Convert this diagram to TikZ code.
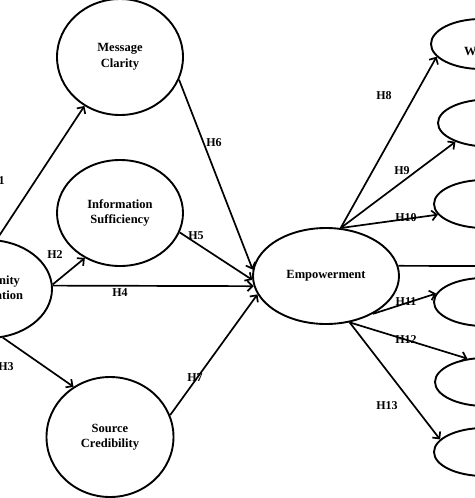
\documentclass[tikz,border=0pt]{standalone}
\usepackage{fontspec}
\setmainfont{Liberation Serif}
\usetikzlibrary{shapes.geometric,arrows.meta}
\begin{document}
\begin{tikzpicture}[x=1pt,y=-1pt,
  ell/.style={draw,ellipse,line width=1.9pt,inner sep=0pt,align=center,font=\bfseries\fontsize{12.5}{15.5}\selectfont},
  lbl/.style={font=\bfseries\fontsize{12}{14}\selectfont,inner sep=0pt},
  conn/.style={line width=1.7pt,-{Straight Barb[length=5pt,width=10pt,line width=1.7pt]}},
  plainline/.style={line width=1.7pt}]
\useasboundingbox (0,0) rectangle (474,498);
\fill[white] (0,0) rectangle (474,498);
% left side
\node[ell,minimum width=128pt,minimum height=98pt] (comm) at (-12,289) {Community\\Participation};
\node[ell,minimum width=126pt,minimum height=116pt] (mc) at (120,57) {Message\\Clarity};
\node[ell,minimum width=126pt,minimum height=106pt] (is) at (120,213) {Information\\Sufficiency};
\node[ell,minimum width=127pt,minimum height=120pt] (sc) at (110,437) {Source\\Credibility};
\node[ell,minimum width=146pt,minimum height=96pt] (emp) at (326,276) {Empowerment};
% right side
\node[ell,minimum width=100pt,minimum height=50pt] (r1) at (481,44) {};
\node[ell,minimum width=100pt,minimum height=47pt] (r2) at (488,123) {};
\node[ell,minimum width=100pt,minimum height=48pt] (r3) at (484,204) {};
\node[ell,minimum width=100pt,minimum height=48pt] (r4) at (484,302) {};
\node[ell,minimum width=100pt,minimum height=48pt] (r5) at (485,382) {};
\node[ell,minimum width=100pt,minimum height=48pt] (r6) at (484,452) {};
\node[lbl,anchor=west,font=\bfseries\fontsize{12.5}{15}\selectfont] (w) at (464,52) {W};
\coordinate (off) at (480,266);
% connectors
\draw[conn] (comm.80) -- (mc.234);
\draw[conn] (comm.4) -- (is.232);
\draw[conn] (comm.3) -- (emp.188);
\draw[conn] (comm.-73) -- (sc.126);
\draw[conn] (mc.-21) -- (emp.175);
\draw[conn] (is.-18) -- (emp.183);
\draw[conn] (sc.20) -- (emp.195);
\draw[conn] (emp.73) -- (r1.196);
\draw[conn] (emp.73) -- (r2.210);
\draw[conn] (emp.73) -- (r3.193);
\draw[plainline] (emp.8) -- (off);
\draw[conn] (emp.-39) -- (r4.170);
\draw[conn] (emp.-63) -- (r5.127);
\draw[conn] (emp.-63) -- (r6.164);
% labels
\node[lbl] (h1) at (-3,181) {H1};
\node[lbl] (h2) at (55,255) {H2};
\node[lbl] (h3) at (6,367) {H3};
\node[lbl] (h4) at (120,293) {H4};
\node[lbl] (h5) at (196,236) {H5};
\node[lbl] (h6) at (214,143) {H6};
\node[lbl] (h7) at (195,378) {H7};
\node[lbl] (h8) at (384,96) {H8};
\node[lbl] (h9) at (402,171) {H9};
\node[lbl] (h10) at (406,218) {H10};
\node[lbl] (h11) at (406,302) {H11};
\node[lbl] (h12) at (406,340) {H12};
\node[lbl] (h13) at (387,406) {H13};
\end{tikzpicture}
\end{document}
